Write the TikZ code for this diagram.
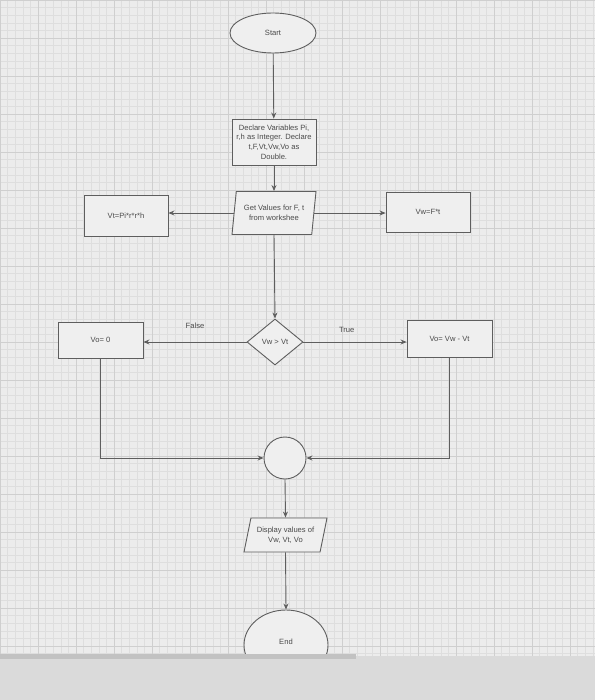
\documentclass[tikz,border=0pt]{standalone}
\usepackage{fontspec}
\setmainfont{Liberation Sans}
\usetikzlibrary{shapes.geometric,arrows.meta}
\definecolor{bgc}{HTML}{ECECEC}
\definecolor{gridminor}{HTML}{DEDEDE}
\definecolor{gridmajor}{HTML}{CFCFCF}
\definecolor{linec}{HTML}{5E5E5E}
\definecolor{boxc}{HTML}{EFEFEF}
\definecolor{txtc}{HTML}{4A4A4A}
\definecolor{bandc}{HTML}{DADADA}
\definecolor{bandline}{HTML}{C2C2C2}
\begin{document}
\begin{tikzpicture}[x=1pt,y=-1pt,
  shp/.style={draw=linec, fill=boxc, line width=0.9pt, text=txtc,
    font=\fontsize{7.6}{9.6}\selectfont, align=center, inner sep=1pt},
  procbox/.style={shp, rectangle},
  termin/.style={shp, ellipse},
  iobox/.style={shp, trapezium, trapezium stretches body},
  decbox/.style={shp, diamond, inner sep=0pt},
  joinc/.style={shp, circle, inner sep=0pt},
  arr/.style={draw=linec, line width=0.9pt, -{Stealth[length=6pt,width=5pt]}},
  lbl/.style={text=txtc, font=\fontsize{7.6}{9}\selectfont, inner sep=1pt}]
\useasboundingbox (0,0) rectangle (595,700);
% background and grid
\fill[bgc] (0,0) rectangle (595,700);
\foreach \x in {0,7.6,...,595} \draw[gridminor, line width=0.3pt] (\x,0) -- (\x,656);
\foreach \y in {0,7.6,...,656} \draw[gridminor, line width=0.3pt] (0,\y) -- (595,\y);
\foreach \x in {0,38,...,595} \draw[gridmajor, line width=0.5pt] (\x,0) -- (\x,656);
\foreach \y in {0,38,...,656} \draw[gridmajor, line width=0.5pt] (0,\y) -- (595,\y);
% nodes
\node[termin, minimum width=86pt, minimum height=40pt] (start) at (273,33) {Start};
\node[procbox, minimum width=84pt, minimum height=46pt] (declare) at (274,142)
  {Declare Variables Pi,\\r,h as Integer. Declare\\t,F,Vt,Vw,Vo as\\Double.};
\node[iobox, trapezium left angle=76, trapezium right angle=104,
  minimum width=84pt, minimum height=43pt] (getv) at (274,213)
  {Get Values for F, t\\from workshee};
\node[procbox, minimum width=84pt, minimum height=41pt] (vt) at (126,215.5) {Vt=Pi*r*r*h};
\node[procbox, minimum width=84pt, minimum height=40pt] (vw) at (428,212) {Vw=F*t};
\node[decbox, minimum width=56pt, minimum height=46pt] (dec) at (275,342) {Vw > Vt};
\node[procbox, minimum width=85pt, minimum height=36pt] (vo0) at (100.5,340) {Vo= 0};
\node[procbox, minimum width=85pt, minimum height=37pt] (vovw) at (449.5,338.5) {Vo= Vw - Vt};
\node[joinc, minimum size=42pt] (join) at (285,458) {};
\node[iobox, trapezium left angle=69, trapezium right angle=111,
  minimum width=83pt, minimum height=34pt] (disp) at (285.5,535)
  {Display values of\\Vw, Vt, Vo};
\node[termin, minimum width=84pt, minimum height=70pt] (endn) at (286,645) {\raisebox{7pt}{End}};
% connectors
\draw[arr] (start) -- (declare);
\draw[arr] (declare) -- (getv);
\draw[arr] (getv.west) -- (vt.east |- getv.west);
\draw[arr] (getv.east) -- (vw.west |- getv.east);
\draw[arr] (getv.south) -- (dec.north);
\draw[arr] (dec.west) -- node[lbl, pos=0.5, above=12pt] (lf) {False} (vo0.east |- dec.west);
\draw[arr] (dec.east) -- node[lbl, pos=0.42, above=8pt] (lt) {True} (vovw.west |- dec.east);
\draw[arr] (vo0.south) |- (join.west);
\draw[arr] (vovw.south) |- (join.east);
\draw[arr] (join.south) -- (disp.north);
\draw[arr] (disp.south) -- (endn.north);
% bottom band (screen edge)
\fill[bandc] (0,656) rectangle (595,700);
\fill[bandline] (0,654) rectangle (356,659);
\end{tikzpicture}
\end{document}
